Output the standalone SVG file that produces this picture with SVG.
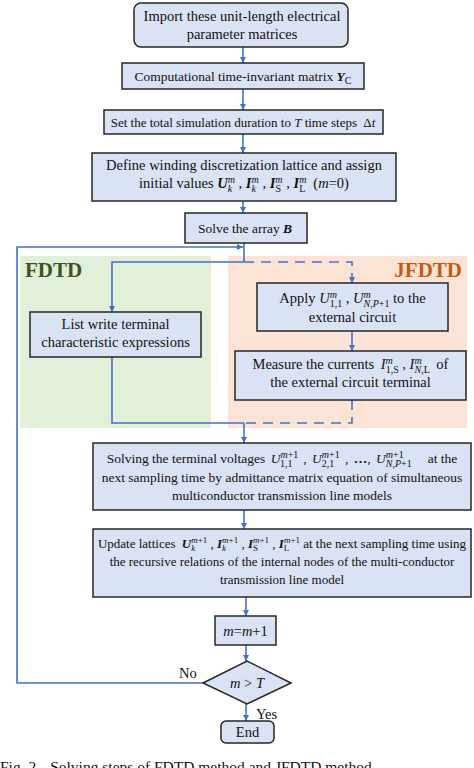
<svg xmlns="http://www.w3.org/2000/svg" width="474" height="768" viewBox="0 0 474 768">
<defs>
<marker id="ah" viewBox="0 0 10 10" refX="10" refY="5" markerWidth="6" markerHeight="6" markerUnits="userSpaceOnUse" orient="auto">
<path d="M0,0 L10,5 L0,10 z" fill="#4472c4"/>
</marker>
<style>
.t{font-family:"Liberation Serif","Times New Roman",serif;font-size:14.5px;fill:#111;}
.m{font-size:13.5px;}
.sm{font-size:13px;}
.bi{font-weight:bold;font-style:italic;}
.i{font-style:italic;}
.s{font-size:10px;}
.s9{font-size:9px;}
.box{fill:#dae3f3;stroke:#262626;stroke-width:1.5;}
.c{fill:none;stroke:#4472c4;stroke-width:1.6;}
.d{fill:none;stroke:#4472c4;stroke-width:1.6;stroke-dasharray:10,7;}
.a{marker-end:url(#ah);}
</style>
</defs>
<rect x="0" y="0" width="474" height="768" fill="#ffffff"/>
<g id="panel-fdtd">
<rect x="20" y="256" width="191" height="172" fill="#e2efd9"/>
<text x="25" y="277" font-family="Liberation Serif, serif" font-size="21" font-weight="bold" fill="#375623">FDTD</text>
</g>
<g id="panel-jfdtd">
<rect x="228" y="256" width="239" height="172" fill="#fbe4d5"/>
<text x="462" y="277" text-anchor="end" font-family="Liberation Serif, serif" font-size="21" font-weight="bold" fill="#c55a11">JFDTD</text>
</g>
<g id="connectors">
<path class="c a" d="M243,47 V63"/>
<path class="c a" d="M243,89 V110"/>
<path class="c a" d="M243,134 V153"/>
<path class="c a" d="M243,201 V213"/>
<path class="c" d="M244,243 V262"/>
<path class="c a" d="M244,262 H112 V312"/>
<path class="d a" d="M244,262 H352 V283"/>
<path class="c a" d="M352,331 V351"/>
<path class="d" d="M352,400 V423 H244"/>
<path class="c" d="M112,357 V423 H244"/>
<path class="c a" d="M244,423 V443"/>
<path class="c a" d="M244,510 V529"/>
<path class="c a" d="M246,597 V616"/>
<path class="c a" d="M246,645 V661"/>
<path class="c a" d="M246,704 V721"/>
<path class="c a" d="M203,683 H17 V247 H243"/>
<text class="t" x="179" y="678">No</text>
<text class="t" x="256" y="719">Yes</text>
</g>
<g id="n1">
<rect class="box" x="134" y="3" width="214" height="44" rx="7"/>
<text class="t" x="242" y="21" text-anchor="middle">Import these unit-length electrical</text>
<text class="t" x="242" y="39" text-anchor="middle">parameter matrices</text>
</g>
<g id="n2">
<rect class="box" x="122" y="63" width="242" height="26"/>
<text class="t m" x="243" y="81" text-anchor="middle">Computational time-invariant matrix <tspan class="bi">Y</tspan><tspan class="s" dy="3">C</tspan></text>
</g>
<g id="n3">
<rect class="box" x="104" y="110" width="279" height="24"/>
<text class="t sm" x="243" y="127" text-anchor="middle">Set the total simulation duration to <tspan class="i">T</tspan> time steps <tspan dx="3">Δ</tspan><tspan class="i">t</tspan></text>
</g>
<g id="n4">
<rect class="box" x="92" y="153" width="304" height="48"/>
<text class="t" x="244" y="170" text-anchor="middle">Define winding discretization lattice and assign</text>
<text class="t" x="244" y="188" text-anchor="middle">initial values <tspan class="bi">U</tspan><tspan class="s i" dy="-5.5">m</tspan><tspan class="s i" dx="-7.2" dy="9">k</tspan><tspan dx="2.8" dy="-3.5"> , </tspan><tspan class="bi">I</tspan><tspan class="s i" dy="-5.5">m</tspan><tspan class="s i" dx="-7.2" dy="9">k</tspan><tspan dx="2.8" dy="-3.5"> , </tspan><tspan class="bi">I</tspan><tspan class="s i" dy="-5.5">m</tspan><tspan class="s" dx="-7.2" dy="9">S</tspan><tspan dx="1.7" dy="-3.5"> , </tspan><tspan class="bi">I</tspan><tspan class="s i" dy="-5.5">m</tspan><tspan class="s" dx="-7.2" dy="9">L</tspan><tspan dx="8" dy="-3.5">(</tspan><tspan class="i">m</tspan>=0)</text>
</g>
<g id="n5">
<rect class="box" x="185" y="213" width="122" height="30"/>
<text class="t m" x="245" y="233" text-anchor="middle">Solve the array <tspan class="bi">B</tspan></text>
</g>
<g id="n6">
<rect class="box" x="30" y="312" width="171" height="45"/>
<text class="t" x="115.5" y="329" text-anchor="middle">List write terminal</text>
<text class="t" x="115.5" y="347" text-anchor="middle">characteristic expressions</text>
</g>
<g id="n7">
<rect class="box" x="257" y="283" width="191" height="48"/>
<text class="t" x="352.5" y="303" text-anchor="middle">Apply <tspan class="i">U</tspan><tspan class="s i" dy="-5.5">m</tspan><tspan class="s" dx="-7.2" dy="9">1,1</tspan><tspan dy="-3.5"> , </tspan><tspan class="i">U</tspan><tspan class="s i" dy="-5.5">m</tspan><tspan class="s" dx="-7.2" dy="9"><tspan class="i">N</tspan>,<tspan class="i">P</tspan>+1</tspan><tspan dy="-3.5"> to the</tspan></text>
<text class="t" x="352.5" y="322" text-anchor="middle">external circuit</text>
</g>
<g id="n8">
<rect class="box" x="235" y="351" width="231" height="49"/>
<text class="t" x="350.5" y="369" text-anchor="middle">Measure the currents <tspan class="i" dx="3">I</tspan><tspan class="s i" dy="-5.5">m</tspan><tspan class="s" dx="-7.2" dy="9">1,S</tspan><tspan dy="-3.5"> , </tspan><tspan class="i">I</tspan><tspan class="s i" dy="-5.5">m</tspan><tspan class="s" dx="-7.2" dy="9"><tspan class="i">N</tspan>,L</tspan><tspan dx="3" dy="-3.5"> of</tspan></text>
<text class="t" x="350.5" y="387" text-anchor="middle">the external circuit terminal</text>
</g>
<g id="n9">
<rect class="box" x="93" y="443" width="378" height="67"/>
<text class="t m" x="282" y="463" text-anchor="middle">Solving the terminal voltages <tspan class="i" dx="2">U</tspan><tspan class="s" dy="-5.5"><tspan class="i">m</tspan>+1</tspan><tspan class="s" dx="-17.9" dy="9">1,1</tspan><tspan dx="7.4" dy="-3.5"> , </tspan><tspan class="i" dx="2">U</tspan><tspan class="s" dy="-5.5"><tspan class="i">m</tspan>+1</tspan><tspan class="s" dx="-17.9" dy="9">2,1</tspan><tspan dx="7.4" dy="-3.5"> , </tspan><tspan font-weight="bold" dx="2">…</tspan>, <tspan class="i" dx="2">U</tspan><tspan class="s" dy="-5.5"><tspan class="i">m</tspan>+1</tspan><tspan class="s" dx="-17.9" dy="9"><tspan class="i">N</tspan>,<tspan class="i">P</tspan>+1</tspan><tspan dx="16" dy="-3.5">at the</tspan></text>
<text class="t m" x="282" y="482" text-anchor="middle">next sampling time by admittance matrix equation of simultaneous</text>
<text class="t m" x="282" y="500" text-anchor="middle">multiconductor transmission line models</text>
</g>
<g id="n10">
<rect class="box" x="93" y="529" width="378" height="68"/>
<text class="t sm" x="282" y="548" text-anchor="middle">Update lattices <tspan class="bi" dx="3">U</tspan><tspan class="s9" dy="-5"><tspan class="i">m</tspan>+1</tspan><tspan class="s9 i" dx="-16.1" dy="8">k</tspan><tspan dx="12.1" dy="-3"> , </tspan><tspan class="bi">I</tspan><tspan class="s9" dy="-5"><tspan class="i">m</tspan>+1</tspan><tspan class="s9 i" dx="-16.1" dy="8">k</tspan><tspan dx="12.1" dy="-3"> , </tspan><tspan class="bi">I</tspan><tspan class="s9" dy="-5"><tspan class="i">m</tspan>+1</tspan><tspan class="s9" dx="-16.1" dy="8">S</tspan><tspan dx="11.1" dy="-3"> , </tspan><tspan class="bi">I</tspan><tspan class="s9" dy="-5"><tspan class="i">m</tspan>+1</tspan><tspan class="s9" dx="-16.1" dy="8">L</tspan><tspan dx="10.6" dy="-3"> at the next sampling time using</tspan></text>
<text class="t sm" x="282" y="566" text-anchor="middle">the recursive relations of the internal nodes of the multi-conductor</text>
<text class="t sm" x="282" y="584" text-anchor="middle">transmission line model</text>
</g>
<g id="n11">
<rect class="box" x="215" y="616" width="61" height="29"/>
<text class="t" x="245.5" y="636" text-anchor="middle"><tspan class="i">m</tspan>=<tspan class="i">m</tspan>+1</text>
</g>
<g id="n12">
<polygon class="box" points="203,683 247,661 291,683 247,704"/>
<text class="t" x="247" y="688" text-anchor="middle"><tspan class="i">m</tspan> &gt; <tspan class="i">T</tspan></text>
</g>
<g id="n13">
<rect class="box" x="221" y="721" width="53" height="22" rx="5"/>
<text class="t" x="247.5" y="737" text-anchor="middle">End</text>
</g>
<text x="0" y="772" font-family="Liberation Serif, serif" font-size="15.5" fill="#111">Fig. 2<tspan dx="14">Solving steps of FDTD method and JFDTD method</tspan></text>
</svg>
